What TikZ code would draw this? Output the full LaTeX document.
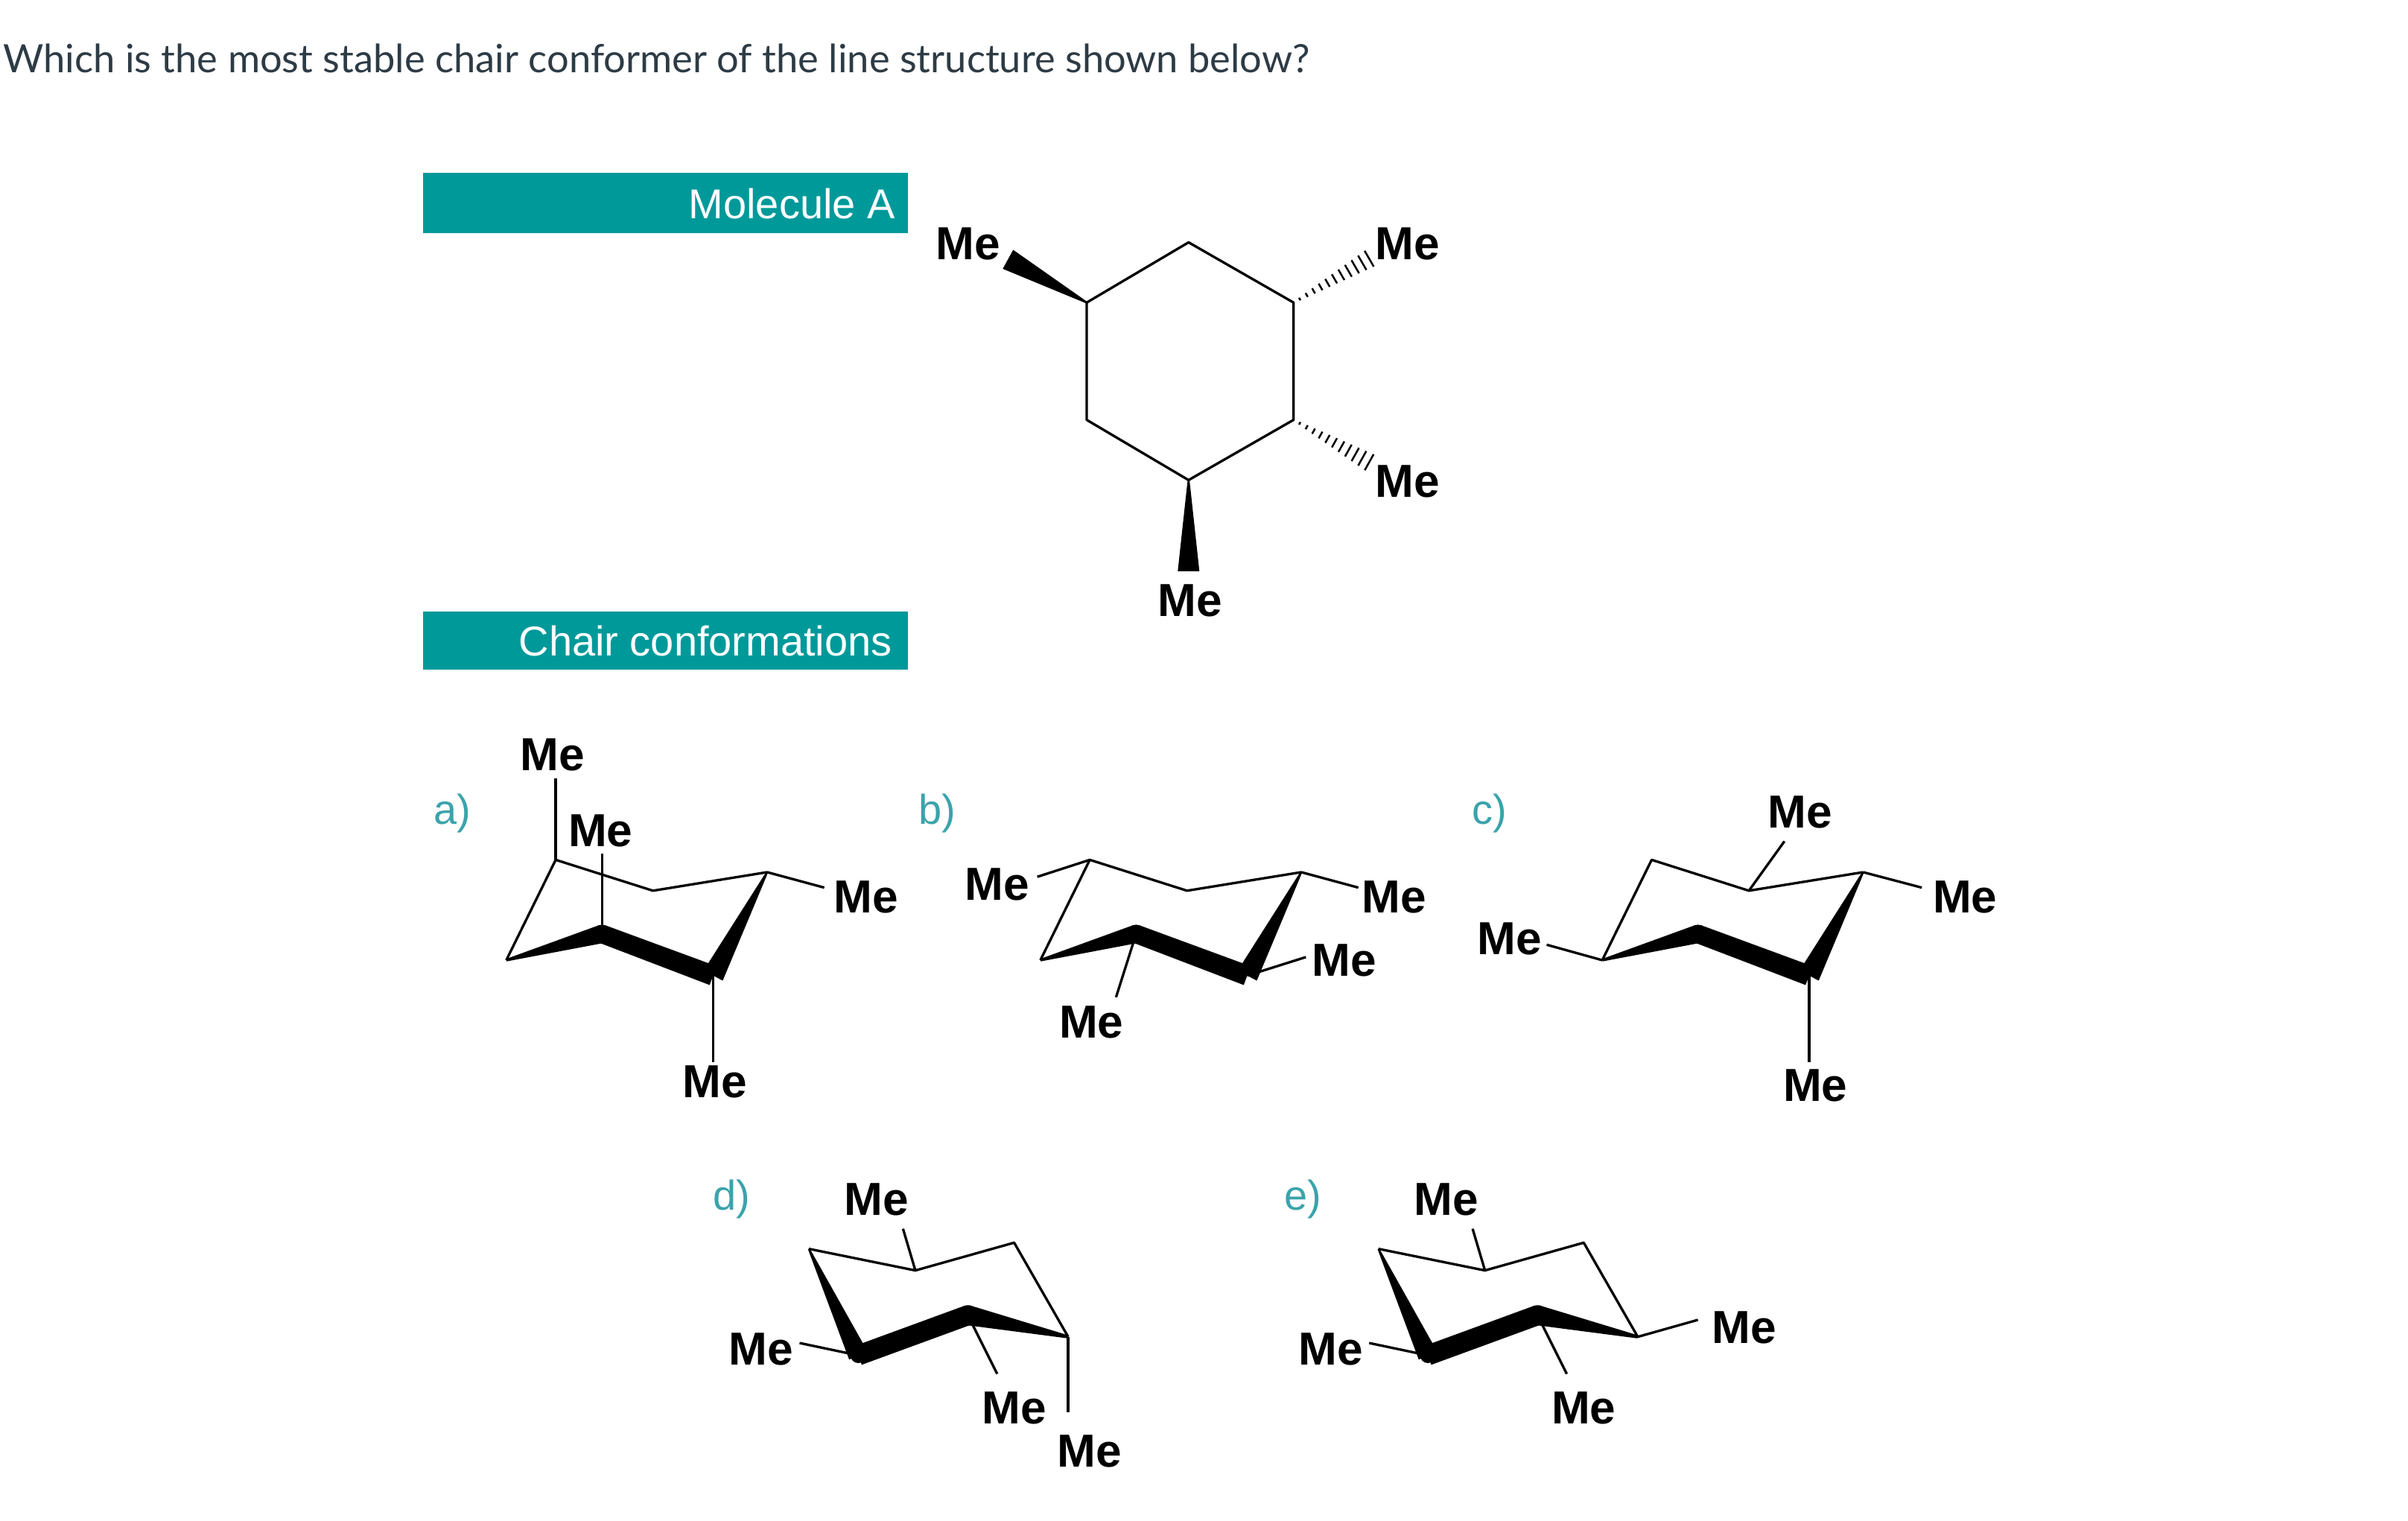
\documentclass[tikz,border=0pt]{standalone}
\usepackage{fontspec}
\usetikzlibrary{calc}
\newfontfamily\arialf{Liberation Sans}
\newfontfamily\titlef{Lato}
\definecolor{teal1}{HTML}{00999A}
\definecolor{lbl}{HTML}{3AA3AB}
\definecolor{ttl}{HTML}{2D3B45}
\newcommand\band[4]{\fill ($(#1)!#3pt!90:(#2)$) -- ($(#1)!#3pt!-90:(#2)$) -- ($(#2)!#4pt!90:(#1)$) -- ($(#2)!#4pt!-90:(#1)$) -- cycle;}
\newcommand\hashb[2]{\foreach \t in {0.08,0.17,...,1.0}{\draw[line width=1.2pt] ($(#1)!\t!(#2)!{0.5pt+5.5pt*\t}!90:(#2)$) -- ($(#1)!\t!(#2)!{0.5pt+5.5pt*\t}!-90:(#2)$);}}
\newcommand\chairABC{%
 \coordinate (c1) at (360,557); \coordinate (c2) at (423,577); \coordinate (c3) at (497,565);
 \coordinate (c4) at (462,632); \coordinate (c5) at (390,605); \coordinate (c6) at (328,622);
 \draw[bond] (c6)--(c1)--(c2)--(c3);
 \band{c6}{c5}{0.8}{6}
 \band{c5}{c4}{6}{6.5}
 \band{c3}{c4}{0.6}{7}
 \fill (c5) circle (6);}
\newcommand\chairDE{%
 \coordinate (d1) at (524,809); \coordinate (d2) at (593,823); \coordinate (d3) at (657,805);
 \coordinate (d4) at (692,866); \coordinate (d5) at (627,852); \coordinate (d6) at (556,878);
 \draw[bond] (d1)--(d2)--(d3)--(d4);
 \band{d1}{d6}{0.6}{6.5}
 \band{d6}{d5}{6.5}{6.5}
 \band{d5}{d4}{6.5}{1}
 \fill (d5) circle (6.5); \fill (d6) circle (5);}
\tikzset{me/.style={font=\arialf\fontsize{30}{30}\selectfont\bfseries,inner sep=0pt},
 lab/.style={font=\arialf\fontsize{27}{27}\selectfont,text=lbl,inner sep=0pt},
 bond/.style={line width=1.6pt,line join=round},
 boxt/.style={fill=teal1,text=white,font=\arialf\fontsize{27}{27}\selectfont,inner sep=0pt}}
\begin{document}
\begin{tikzpicture}[x=1pt,y=-1pt]
\useasboundingbox (0,0) rectangle (1560,985);
\node[anchor=west,text=ttl,font=\titlef\fontsize{25.3}{25.3}\selectfont,inner sep=0pt] (title) at (2,38) {Which is the most stable chair conformer of the line structure shown below?};
\fill[teal1] (274,112) rectangle (588,151);
\node[boxt,anchor=east] (ma) at (580,132) {Molecule A};
\fill[teal1] (274,396) rectangle (588,434);
\node[boxt,anchor=east] (cc) at (578,415) {Chair conformations};
% Molecule A
\coordinate (A1) at (770,157); \coordinate (A2) at (838,196); \coordinate (A3) at (838,272);
\coordinate (A4) at (770,311); \coordinate (A5) at (704,272); \coordinate (A6) at (704,196);
\draw[bond] (A1)--(A2)--(A3)--(A4)--(A5)--(A6)--cycle;
\coordinate (W1) at (653,168); \coordinate (W2) at (770,370);
\band{A6}{W1}{0.6}{7}
\band{A4}{W2}{0.6}{7}
\coordinate (H1) at (888,167); \coordinate (H2) at (888,300);
\hashb{A2}{H1}
\hashb{A3}{H2}
\node[me] (m1) at (627,158) {Me};
\node[me] (m2) at (912,158) {Me};
\node[me] (m3) at (912,312) {Me};
\node[me] (m4) at (771,389) {Me};
\chairABC
\draw[bond] (c1)--(360,504); \node[me] at (358,489) {Me};
\draw[bond] (c5)--(390,553); \node[me] at (389,538) {Me};
\draw[bond] (c3)--(534,575); \node[me] at (561,581) {Me};
\draw[bond] (c4)--(462,688); \node[me] at (463,701) {Me};
\node[lab] (la) at (293,527) {a)};
\begin{scope}[xshift=346]
\chairABC
\draw[bond] (c1)--(326,568); \node[me] at (300,573) {Me};
\draw[bond] (c3)--(534,575); \node[me] at (557,581) {Me};
\draw[bond] (c4)--(500,620); \node[me] at (525,622) {Me};
\draw[bond] (c5)--(377,646); \node[me] at (361,662) {Me};
\node[lab] (lb) at (261,527) {b)};
\end{scope}
\begin{scope}[xshift=710]
\chairABC
\draw[bond] (c2)--(446,545); \node[me] at (456,526) {Me};
\draw[bond] (c3)--(535,575); \node[me] at (563,581) {Me};
\draw[bond] (c4)--(462,688); \node[me] at (466,703) {Me};
\draw[bond] (c6)--(292,612); \node[me] at (268,608) {Me};
\node[lab] (lc) at (255,527) {c)};
\end{scope}
\chairDE
\draw[bond] (d2)--(585,796); \node[me] at (568,777) {Me};
\draw[bond] (d6)--(518,870); \node[me] at (493,874) {Me};
\draw[bond] (d5)--(646,890); \node[me] at (657,912) {Me};
\draw[bond] (d4)--(692,915); \node[me] at (706,940) {Me};
\node[lab] (ld) at (474,777) {d)};
\begin{scope}[xshift=369]
\chairDE
\draw[bond] (d2)--(585,796); \node[me] at (568,777) {Me};
\draw[bond] (d6)--(518,870); \node[me] at (493,874) {Me};
\draw[bond] (d5)--(646,890); \node[me] at (657,912) {Me};
\draw[bond] (d4)--(731,855); \node[me] at (761,860) {Me};
\node[lab] (le) at (475,777) {e)};
\end{scope}
\end{tikzpicture}
\end{document}
